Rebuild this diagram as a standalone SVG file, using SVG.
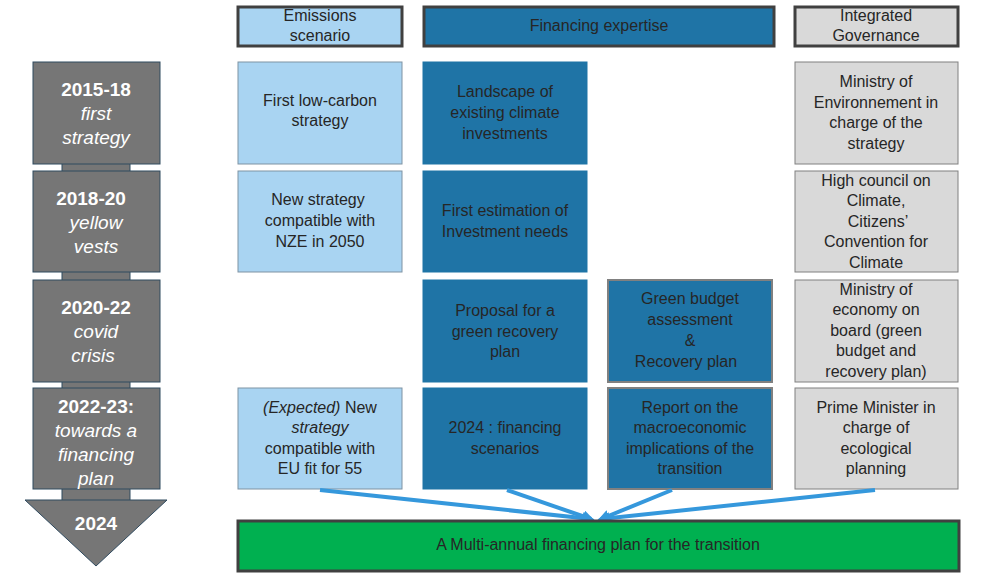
<svg xmlns="http://www.w3.org/2000/svg" width="983" height="576" viewBox="0 0 983 576">
<defs>
<style>
text{font-family:"Liberation Sans",Arial,sans-serif;font-size:16px;fill:#262626;text-anchor:middle}
.lb{fill:#a9d4f2;stroke:#7f93a3;stroke-width:1}
.db{fill:#1f74a6;stroke:#1f74a6;stroke-width:1}
.dbg{fill:#1f74a6;stroke:#808080;stroke-width:2}
.gr{fill:#d9d9d9;stroke:#808080;stroke-width:1}
.hd{stroke:#404040;stroke-width:3}
.tl{fill:#767676;stroke:#2f4a5f;stroke-width:1}
.tt{fill:#fff;font-size:19px}
.b{font-weight:bold}
.i{font-style:italic}
.ar{stroke:#3598dc;stroke-width:4;fill:none}
</style>
<marker id="ah" viewBox="0 0 10 10" refX="7" refY="5" markerWidth="3" markerHeight="3" orient="auto"><path d="M0,0L10,5L0,10z" fill="#3598dc"/></marker>
</defs>
<g id="timeline">
<rect x="62" y="160" width="68" height="240" fill="#767676" stroke="#2f4a5f"/>
<rect x="62" y="485" width="68" height="16" fill="#767676" stroke="#2f4a5f"/>
<polygon points="25,500 167,500 96,566" class="tl"/>
<rect x="33" y="62" width="127" height="102" class="tl"/>
<rect x="33" y="171" width="127" height="101" class="tl"/>
<rect x="33" y="280" width="127" height="102" class="tl"/>
<rect x="33" y="388" width="127" height="101" class="tl"/>
<text class="tt b" x="96" y="96">2015-18</text><text class="tt i" x="96" y="120">first</text><text class="tt i" x="96" y="144">strategy</text>
<text class="tt b" x="91" y="205">2018-20</text><text class="tt i" x="96" y="229">yellow</text><text class="tt i" x="96" y="253">vests</text>
<text class="tt b" x="96" y="314">2020-22</text><text class="tt i" x="96" y="338">covid</text><text class="tt i" x="93" y="362">crisis</text>
<text class="tt b" x="96" y="413">2022-23:</text><text class="tt i" x="96" y="437">towards a</text><text class="tt i" x="96" y="461">financing</text><text class="tt i" x="96" y="485">plan</text>
<text class="tt b" x="96" y="530">2024</text>
</g>
<g id="h1"><rect x="238" y="7" width="164" height="39" class="lb hd"/><text x="320" y="21">Emissions</text><text x="320" y="41">scenario</text></g>
<g id="h2"><rect x="424" y="7" width="350" height="39" class="db hd" style="stroke:#404040"/><text x="599" y="31">Financing expertise</text></g>
<g id="h3"><rect x="795" y="7" width="163" height="39" class="gr hd" style="stroke:#404040"/><text x="876" y="21">Integrated</text><text x="876" y="41">Governance</text></g>
<g id="c11"><rect x="238" y="62" width="164" height="102" class="lb"/><text x="320" y="106">First low-carbon</text><text x="320" y="126">strategy</text></g>
<g id="c12"><rect x="423" y="62" width="164" height="102" class="db"/><text x="505" y="97">Landscape of</text><text x="505" y="118">existing climate</text><text x="505" y="139">investments</text></g>
<g id="c14"><rect x="795" y="62" width="163" height="102" class="gr"/><text x="876" y="87">Ministry of</text><text x="876" y="108">Environnement in</text><text x="876" y="128">charge of the</text><text x="876" y="149">strategy</text></g>
<g id="c21"><rect x="238" y="171" width="164" height="101" class="lb"/><text x="318" y="205">New strategy</text><text x="320" y="226">compatible with</text><text x="320" y="247">NZE in 2050</text></g>
<g id="c22"><rect x="423" y="171" width="164" height="101" class="db"/><text x="505" y="216">First estimation of</text><text x="505" y="237">Investment needs</text></g>
<g id="c24"><rect x="795" y="171" width="163" height="101" class="gr"/><text x="876" y="186">High council on</text><text x="876" y="206">Climate,</text><text x="878" y="227">Citizens’</text><text x="876" y="247">Convention for</text><text x="876" y="268">Climate</text></g>
<g id="c32"><rect x="423" y="280" width="164" height="102" class="db"/><text x="505" y="316">Proposal for a</text><text x="505" y="337">green recovery</text><text x="505" y="357">plan</text></g>
<g id="c33"><rect x="608" y="280" width="164" height="102" class="dbg"/><text x="690" y="304">Green budget</text><text x="690" y="325">assessment</text><text x="690" y="346">&amp;</text><text x="686" y="367">Recovery plan</text></g>
<g id="c34"><rect x="795" y="280" width="163" height="102" class="gr"/><text x="876" y="295">Ministry of</text><text x="876" y="315">economy on</text><text x="876" y="336">board (green</text><text x="876" y="356">budget and</text><text x="876" y="377">recovery plan)</text></g>
<g id="c41"><rect x="238" y="388" width="164" height="101" class="lb"/><text x="320" y="413"><tspan font-style="italic">(Expected)</tspan> New</text><text x="320" y="433" font-style="italic">strategy</text><text x="320" y="454">compatible with</text><text x="320" y="474">EU fit for 55</text></g>
<g id="c42"><rect x="423" y="388" width="164" height="101" class="db"/><text x="505" y="433">2024 : financing</text><text x="505" y="454">scenarios</text></g>
<g id="c43"><rect x="608" y="388" width="164" height="101" class="dbg"/><text x="690" y="413">Report on the</text><text x="690" y="433">macroeconomic</text><text x="690" y="454">implications of the</text><text x="690" y="474">transition</text></g>
<g id="c44"><rect x="795" y="388" width="163" height="101" class="gr"/><text x="876" y="413">Prime Minister in</text><text x="876" y="433">charge of</text><text x="876" y="454">ecological</text><text x="876" y="474">planning</text></g>
<g id="connectors">
<line x1="320" y1="490" x2="591" y2="519" class="ar" marker-end="url(#ah)"/>
<line x1="507" y1="490" x2="591" y2="519" class="ar" marker-end="url(#ah)"/>
<line x1="672" y1="490" x2="601" y2="519" class="ar" marker-end="url(#ah)"/>
<line x1="875" y1="490" x2="601" y2="519" class="ar" marker-end="url(#ah)"/>
</g>
<g id="plan"><rect x="238" y="521" width="721" height="50" fill="#00b050" stroke="#404040" stroke-width="3"/><text x="598" y="550">A Multi-annual financing plan for the transition</text></g>
</svg>
